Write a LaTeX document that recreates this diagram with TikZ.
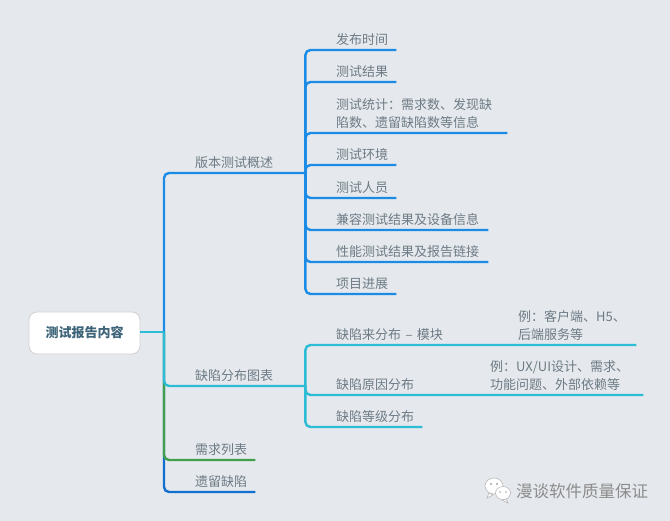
\documentclass[tikz,border=0pt]{standalone}
\usepackage{fontspec}
\newfontfamily\cjk{Noto Sans CJK SC}
\definecolor{bgGrey}{HTML}{E5E8EC}
\definecolor{textGrey}{HTML}{6D7B85}
\definecolor{rootText}{HTML}{3D6478}
\definecolor{lineBlue}{HTML}{1B8BE5}
\definecolor{lineCyan}{HTML}{2CBCD6}
\definecolor{lineGreen}{HTML}{3F9F4B}
\definecolor{lineDark}{HTML}{1270D0}
\tikzset{
  leaf/.style={anchor=south west,text width=#1,align=left,inner xsep=0pt,inner ysep=4pt,text=textGrey},
  note/.style={anchor=south west,align=left,inner xsep=0pt,inner ysep=4pt,text=textGrey},
  wire/.style={line width=2.4pt,rounded corners=5pt},
  bubble/.style={fill=white,draw=black!30,line width=0.5pt},
  eye/.style={fill=black!35}
}
\begin{document}
\begin{tikzpicture}[x=1pt,y=-1pt,font=\cjk\fontsize{13}{18}\selectfont]
\useasboundingbox[fill=bgGrey] (0,0) rectangle (670,521);
\node[draw=black!18,fill=white,rounded corners=8pt,line width=0.8pt,minimum width=111pt,minimum height=42pt,text=rootText,font=\cjk\bfseries\fontsize{13}{18}\selectfont] (root) at (84.5,333) {测试报告内容};
\coordinate (trunk) at (164,332);
% first level
\node[leaf=110] (overview) at (195,173) {版本测试概述};
\node[leaf=110] (chart) at (195,386) {缺陷分布图表};
\node[leaf=60] (reqlist) at (195,460) {需求列表};
\node[leaf=60] (remain) at (195,492) {遗留缺陷};
\coordinate (hubA) at (overview.south east);
\coordinate (hubB) at (chart.south east);
% second level, version overview
\node[leaf=60] (release) at (336,50) {发布时间};
\node[leaf=60] (result) at (336,82) {测试结果};
\node[leaf=171] (stats) at (336,133) {测试统计：需求数、发现缺\\陷数、遗留缺陷数等信息};
\node[leaf=60] (env) at (336,165) {测试环境};
\node[leaf=60] (staff) at (336,198) {测试人员};
\node[leaf=152] (compat) at (336,230) {兼容测试结果及设备信息};
\node[leaf=152] (perf) at (336,262) {性能测试结果及报告链接};
\node[leaf=60] (progress) at (336,294) {项目进展};
% second level, defect charts
\node[leaf=300] (module) at (336,345) {缺陷来分布 – 模块};
\node[leaf=307] (cause) at (336,395) {缺陷原因分布};
\node[leaf=86] (level) at (336,427) {缺陷等级分布};
\node[note] (moduleNote) at (518,345) {例：客户端、H5、\\后端服务等};
\node[note] (causeNote) at (490,395) {例：UX/UI设计、需求、\\功能问题、外部依赖等};
% connectors
\draw[wire,lineDark] (trunk) |- (remain.south east);
\draw[wire,lineGreen] (trunk) |- (reqlist.south east);
\draw[wire,lineCyan] (trunk) |- (hubB);
\draw[wire,lineBlue] (trunk) |- (hubA);
\draw[line width=2.4pt,lineCyan] (root.east |- trunk) -- (trunk);
\foreach \leafname in {release,result,stats,env,staff,compat,perf,progress}
  \draw[wire,lineBlue] (hubA) |- (\leafname.south east);
\foreach \leafname in {module,cause,level}
  \draw[wire,lineCyan] (hubB) |- (\leafname.south east);
% watermark
\draw[bubble] (489,493) -- (487,498) -- (493,495) -- cycle;
\draw[bubble] (494,486) ellipse (9pt and 8pt);
\fill[eye] (491,484) circle (1.1pt) (497,484) circle (1.1pt);
\draw[bubble] (506,499) -- (508,503) -- (502,500) -- cycle;
\draw[bubble] (503,493) ellipse (7.5pt and 6.5pt);
\fill[eye] (500,492) circle (0.9pt) (506,492) circle (0.9pt);
\node[anchor=west,inner sep=0pt,text=black!45,font=\cjk\fontsize{16.5}{18}\selectfont] (mark) at (516,491) {漫谈软件质量保证};
\end{tikzpicture}
\end{document}
